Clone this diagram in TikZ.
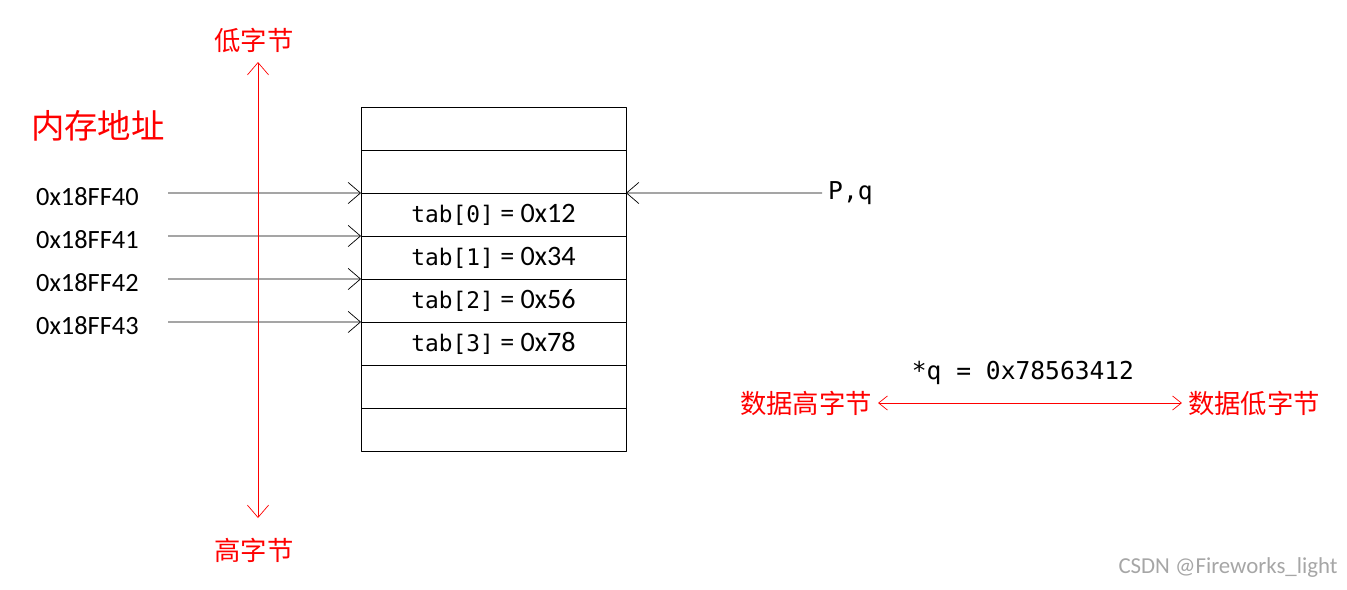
\documentclass[tikz,border=0pt]{standalone}
\usepackage{fontspec}
\setmainfont{Carlito}
\setmonofont{DejaVu Sans Mono}
\newfontfamily\cjk{Noto Sans CJK SC}
\usetikzlibrary{arrows.meta,positioning}
\tikzset{l/.style={font=\fontsize{15}{15}\selectfont}}
\tikzset{cn/.style={font=\cjk\fontsize{15}{15}\selectfont,text=red}}
\tikzset{cell/.style={draw,minimum width=5.3cm,minimum height=0.86cm,inner sep=0pt,outer sep=0pt,font=\fontsize{16}{16}\selectfont}}
\tikzset{ptr/.style={-{Straight Barb[length=7pt,width=12pt]},thin}}
\begin{document}
\begin{tikzpicture}[x=0.02cm,y=-0.02cm,line join=round]
  \useasboundingbox (0,0) rectangle (1347,589);
  % memory cells
  \node[cell] (c0) at (493.5,128.5) {};
  \node[cell,below=0pt of c0] (c1) {};
  \node[cell,below=0pt of c1] (c2) {{\ttfamily\fontsize{13}{13}\selectfont tab[0]} = 0x12};
  \node[cell,below=0pt of c2] (c3) {{\ttfamily\fontsize{13}{13}\selectfont tab[1]} = 0x34};
  \node[cell,below=0pt of c3] (c4) {{\ttfamily\fontsize{13}{13}\selectfont tab[2]} = 0x56};
  \node[cell,below=0pt of c4] (c5) {{\ttfamily\fontsize{13}{13}\selectfont tab[3]} = 0x78};
  \node[cell,below=0pt of c5] (c6) {};
  \node[cell,below=0pt of c6] (c7) {};
  % addresses
  \node[cn,font=\cjk\fontsize{19}{19}\selectfont] (title) at (98,126) {内存地址};
  \foreach \n/\y/\c in {40/193/c2,41/236/c3,42/279/c4,43/322/c5}{
    \node[l,anchor=west] (a\n) at (30,\y+4) {0x18FF\n};
    \coordinate (s\n) at (168,\y);
    \draw[ptr] (s\n) -- (\c.north west);
  }
  % byte order axis
  \node[cn] (lo) at (254,40) {低字节};
  \node[cn] (hi) at (254,550) {高字节};
  \coordinate (top) at (258,62);
  \coordinate (bot) at (258,518);
  \draw[red,{Straight Barb[length=7pt,width=12pt]}-{Straight Barb[length=7pt,width=12pt]}] (top) -- (bot);
  % pointer
  \node[font=\ttfamily\fontsize{14}{14}\selectfont,anchor=west] (pq) at (822,193) {P,q};
  \draw[ptr] (pq.west) -- (c2.north east);
  % value
  \node[font=\ttfamily\fontsize{14}{14}\selectfont] (val) at (1023,373) {*q = 0x78563412};
  \node[cn] (dh) at (806,403) {数据高字节};
  \node[cn] (dl) at (1254,403) {数据低字节};
  \draw[red,{Straight Barb[length=5pt,width=8pt]}-{Straight Barb[length=5pt,width=8pt]}] (dh.east) -- (dl.west);
  \node[text=gray!70,font=\fontsize{13}{13}\selectfont] (wm) at (1228,568) {CSDN @Fireworks\_light};
\end{tikzpicture}
\end{document}
